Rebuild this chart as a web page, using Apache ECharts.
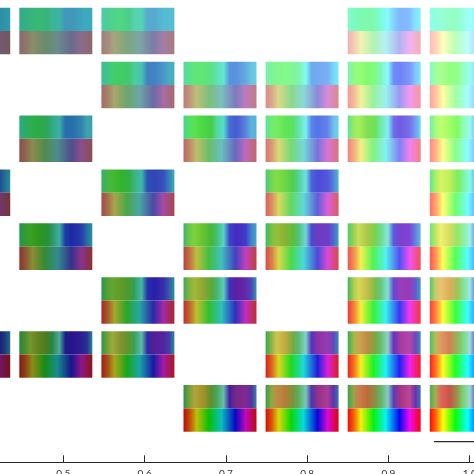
<!DOCTYPE html>
<html>
<head>
<meta charset="utf-8">
<style>html,body{margin:0;padding:0;background:#fff}#c{width:474px;height:474px;filter:blur(0.4px)}</style>
<script src="https://cdn.jsdelivr.net/npm/echarts@6/dist/echarts.min.js"></script>
</head>
<body>
<div id="c"></div>
<script>
// tile position on the two scales
var tileValue = [
  0.4,0.5,0.6,0.9,1.0,
  0.6,0.7,0.8,0.9,1.0,
  0.5,0.7,0.8,0.9,1.0,
  0.4,0.6,0.8,1.0,
  0.5,0.7,0.8,0.9,1.0,
  0.6,0.7,0.9,1.0,
  0.4,0.5,0.6,0.8,0.9,1.0,
  0.7,0.8,0.9,1.0
];
var tileSaturation = [
  0.3,0.3,0.3,0.3,0.3,
  0.4,0.4,0.4,0.4,0.4,
  0.5,0.5,0.5,0.5,0.5,
  0.6,0.6,0.6,0.6,
  0.7,0.7,0.7,0.7,0.7,
  0.8,0.8,0.8,0.8,
  0.9,0.9,0.9,0.9,0.9,0.9,
  1.0,1.0,1.0,1.0
];
// upper strip of each tile: colours at topStops
var topStops = [0,.08,.15,.27,.38,.45,.55,.63,.72,.85,.93,1];
var tileTop = [
"40,145,115 40,150,105 45,155,100 45,160,90 45,155,95 50,155,125 50,155,140 50,125,160 50,125,160 45,140,165 45,150,170 45,155,170",
"50,170,140 50,175,130 55,180,125 55,185,115 55,180,120 60,180,150 60,180,165 65,150,185 65,150,185 60,165,190 60,170,190 60,170,190",
"75,205,170 78,205,150 80,210,140 80,215,130 75,205,140 85,210,170 85,210,185 85,170,205 85,170,205 85,185,210 85,190,210 85,190,210",
"130,250,210 125,250,190 125,250,180 125,250,170 125,250,180 125,250,220 135,250,255 130,210,250 130,180,255 130,190,255 130,230,255 130,240,255",
"140,255,230 145,255,220 150,255,215 150,255,195 145,255,200 150,255,225 160,255,250 150,245,255 150,215,255 150,225,255 150,245,255 150,250,255",

"60,190,150 65,195,140 65,205,110 65,205,95 65,200,115 75,205,150 70,195,180 65,130,190 65,130,195 75,150,200 70,175,190 70,175,190",
"85,215,170 90,225,140 95,230,120 95,230,115 90,225,135 95,225,170 100,230,215 85,150,220 90,145,222 100,170,225 105,195,225 105,205,225",
"120,240,180 125,245,150 130,245,140 130,250,140 130,245,150 125,245,170 130,250,240 110,170,240 115,170,240 120,175,245 120,215,245 120,235,245",
"120,240,190 145,250,130 150,255,120 130,250,110 130,250,130 125,245,190 140,250,250 110,140,250 110,130,250 125,150,250 130,200,250 120,230,250",
"130,250,200 160,255,160 170,255,140 150,255,130 145,255,140 150,255,190 150,255,240 150,220,255 140,165,255 150,180,255 150,220,255 140,240,255",

"45,170,130 45,170,105 45,175,80 45,170,70 45,165,90 50,170,130 60,175,165 40,110,170 40,110,170 50,130,175 60,165,175 55,160,170",
"70,210,150 85,225,100 90,225,80 75,215,70 70,205,70 85,215,150 85,220,210 70,110,210 70,90,210 90,130,220 90,180,220 85,180,215",
"90,225,160 115,235,110 120,235,100 95,230,85 90,225,100 100,225,170 120,240,240 90,130,235 85,115,230 100,130,235 110,190,235 100,215,235",
"90,225,160 150,235,100 165,240,90 125,225,80 110,225,90 110,235,170 130,240,240 110,110,235 115,90,225 120,110,235 115,160,240 105,220,240",
"110,240,170 170,250,120 190,255,110 160,255,100 130,250,100 140,255,170 150,250,240 130,190,250 140,120,250 145,130,250 140,180,255 125,230,250",

"35,140,90 55,145,60 60,150,40 40,145,35 40,140,55 45,145,95 45,150,135 35,60,145 35,50,145 35,70,150 35,110,150 40,140,145",
"50,175,110 70,180,70 70,185,50 50,180,45 50,175,70 60,180,120 60,185,170 45,80,180 50,70,180 55,80,190 55,130,190 60,175,170",
"70,200,130 115,215,80 135,220,70 105,215,65 80,205,80 80,210,150 110,225,225 75,100,215 75,75,215 85,85,220 85,130,220 70,190,200",
"95,230,150 170,240,100 210,245,100 190,240,90 130,235,90 120,245,150 135,250,230 110,170,245 120,95,245 130,100,245 120,150,250 100,210,240",

"35,150,90 50,155,50 60,160,35 45,150,30 40,145,50 45,150,100 60,175,165 30,60,160 30,40,165 40,60,170 40,110,170 40,150,150",
"60,180,110 110,200,70 125,210,60 100,195,50 70,185,55 65,190,110 90,210,200 60,70,200 70,40,195 65,60,200 70,130,205 65,170,190",
"55,185,110 120,195,60 150,190,60 135,180,50 90,190,60 80,195,120 110,215,215 80,70,210 110,60,190 110,60,200 80,100,210 55,170,180",
"85,200,110 150,210,80 200,220,90 170,200,70 120,210,80 110,220,140 130,230,220 90,90,220 125,65,205 125,70,215 100,130,225 100,190,220",
"110,225,130 190,230,100 240,240,110 215,220,100 150,230,100 140,240,150 150,245,230 120,130,240 150,90,230 155,90,235 120,150,240 110,200,230",

"40,150,80 80,160,50 100,165,50 95,155,40 70,155,45 50,160,90 65,185,165 40,50,170 40,30,170 55,45,170 55,90,170 35,150,150",
"60,170,90 130,180,60 160,185,55 145,165,50 90,170,55 70,180,105 90,205,190 60,50,190 95,30,160 100,40,170 75,70,190 50,155,170",
"60,180,100 170,205,75 215,215,85 195,190,70 120,190,75 100,200,125 130,225,210 100,70,210 155,60,185 150,60,185 100,90,205 60,160,195",
"80,200,110 200,205,100 235,195,110 220,175,90 160,195,90 130,225,140 150,235,225 120,100,230 185,85,210 190,85,215 130,110,230 85,180,215",

"25,110,50 65,115,35 90,120,40 75,105,25 55,100,25 30,110,55 60,140,125 25,25,110 30,15,115 30,25,120 30,60,125 30,110,125",
"35,135,60 80,140,45 115,150,50 95,130,30 70,125,30 40,135,70 75,170,155 30,30,135 40,20,140 45,30,145 40,50,150 40,130,145",
"45,150,70 110,160,55 155,170,60 130,145,45 90,150,45 60,160,90 90,190,170 50,40,165 85,30,150 85,35,160 70,60,170 40,140,150",
"50,170,90 140,180,65 205,195,80 195,170,60 110,170,70 90,185,115 125,210,200 85,50,190 140,50,165 150,60,175 100,70,190 55,140,180",
"60,170,90 160,185,70 205,165,80 190,140,65 125,165,70 100,190,110 140,210,200 100,50,190 165,60,160 180,70,170 110,70,190 65,140,190",
"80,190,100 180,190,90 230,150,100 210,130,80 150,180,90 120,215,125 150,225,215 110,70,220 210,85,180 215,90,190 130,90,215 80,160,210",

"45,145,75 120,160,55 175,165,60 165,145,40 90,145,45 70,165,85 100,190,170 70,30,160 120,40,135 130,40,145 85,50,165 50,135,155",
"55,155,80 140,170,60 190,140,70 180,125,55 120,150,60 90,175,90 120,200,185 80,50,175 150,50,135 170,60,150 95,50,175 60,120,170",
"60,160,85 150,165,70 205,125,75 190,105,60 135,145,65 100,180,100 130,205,190 90,60,185 170,50,130 190,70,150 100,50,180 65,120,180",
"75,175,90 165,175,75 225,100,90 200,85,70 150,150,75 120,210,110 150,220,205 110,70,210 215,75,150 225,90,170 130,70,210 80,130,200"
];
// lower strip of each tile: hue read at each stop, at the tile's saturation and value
var bottomStops = [0,.09,.18,.35,.52,.71,.85,1];
var bottomHues = [0,25,60,120,180,240,300,360];
// x axis tick labels, from 0.4 upward
var tickLabels = ['0.4','0.5','0.6','0.7','0.8','0.9','1.0','1.1'];
// the short rule at lower right
var ruleX = [0.956,1.1];
var ruleY = [1.0618,1.0618];

function hsv(h,s,v){
  var M=255*Math.min(1,v+0.05), m=M*(1-s)+8;
  if(m>255)m=255;
  var k=h%360, r,g,b, f=(k%60)/60;
  var up=m+(M-m)*f, dn=M-(M-m)*f;
  if(k<60){r=M;g=up;b=m;}
  else if(k<120){r=dn;g=M;b=m;}
  else if(k<180){r=m;g=M;b=up;}
  else if(k<240){r=m;g=dn;b=M;}
  else if(k<300){r=up;g=m;b=M;}
  else {r=M;g=m;b=dn;}
  return 'rgb('+Math.round(r)+','+Math.round(g)+','+Math.round(b)+')';
}
var TILE_LEFT_OFFSET=-0.0541, TILE_PITCH=1.01, TILE_W=0.0898, HALF_H=0.0432;
var data = tileValue.map(function(v,i){
  return [0.5+TILE_LEFT_OFFSET+(v-0.5)*TILE_PITCH, tileSaturation[i], i, v];
});
function grad(stops,cols){
  return new echarts.graphic.LinearGradient(0,0,1,0,stops.map(function(p,i){return {offset:p,color:cols[i]};}));
}
var chart = echarts.init(document.getElementById('c'),null,{renderer:'canvas'});
chart.setOption({
  animation:false,
  backgroundColor:'#fff',
  grid:{left:-17.98,top:-22.9,width:568.96,height:485.2,outerBoundsMode:'none',containLabel:false},
  xAxis:{type:'value',min:0.4,max:1.1,interval:0.1,splitLine:{show:false},
    axisLine:{show:true,lineStyle:{color:'#2a2a2a',width:1}},
    axisTick:{show:true,inside:true,length:7,lineStyle:{color:'#2a2a2a',width:1}},
    axisLabel:{margin:6,fontFamily:'Lato',fontSize:10,color:'#333',
      formatter:function(v){return tickLabels[Math.round((v-0.4)*10)];}}},
  yAxis:{type:'value',inverse:true,min:0.2,max:1.1,show:false},
  series:[
    {type:'custom',clip:false,data:data,encode:{x:0,y:1},
     renderItem:function(params,api){
       var x=api.value(0), s=api.value(1), i=api.value(2), v=api.value(3);
       var a=api.coord([x,s-HALF_H]), b=api.coord([x+TILE_W,s]), c=api.coord([x+TILE_W,s+HALF_H]);
       var topCols=tileTop[i].split(' ').map(function(t){return 'rgb('+t+')';});
       var botCols=bottomHues.map(function(h){return hsv(h,s,v);});
       return {type:'group',children:[
         {type:'rect',shape:{x:a[0],y:a[1],width:b[0]-a[0],height:b[1]-a[1]},style:{fill:grad(topStops,topCols)}},
         {type:'rect',shape:{x:a[0],y:b[1],width:b[0]-a[0],height:c[1]-b[1]},style:{fill:grad(bottomStops,botCols)}}
       ]};
     }},
    {type:'line',symbol:'none',silent:true,clip:false,
     data:ruleX.map(function(x,i){return [x,ruleY[i]];}),
     lineStyle:{color:'#2a2a2a',width:1.3}}
  ]
});
</script>
</body>
</html>
